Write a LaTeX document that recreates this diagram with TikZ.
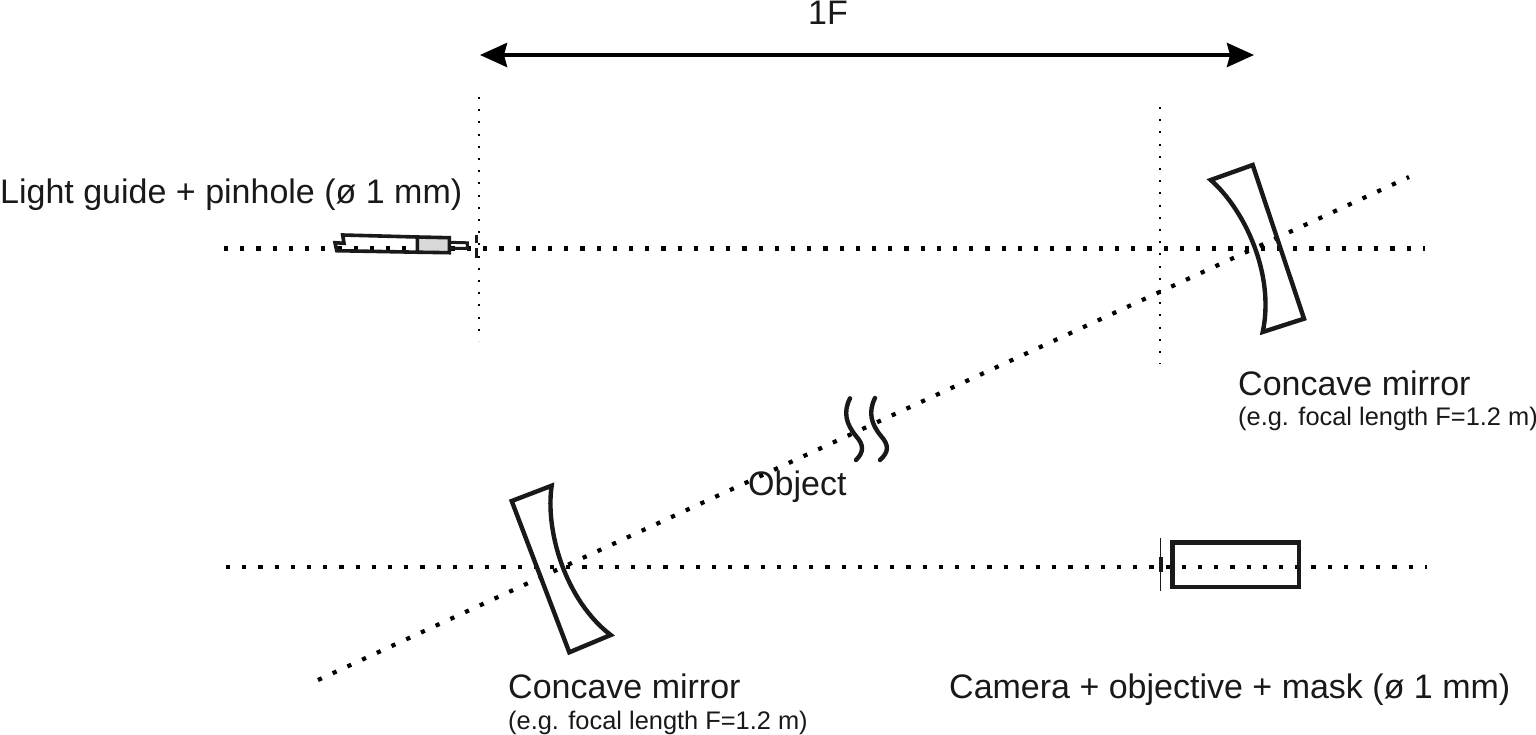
\documentclass[tikz,border=0pt]{standalone}
\usepackage{fontspec}
\setmainfont{Liberation Sans}
\usetikzlibrary{arrows.meta}
\tikzset{
  beam/.style={line width=4.2pt,dash pattern=on 4.2pt off 12pt},
  guide/.style={line width=2pt,dash pattern=on 2pt off 10.2pt},
  outline/.style={line width=4.4pt,line join=miter,color=black!90},
  big/.style={font=\fontsize{34}{34}\selectfont,inner sep=0pt,anchor=base west,color=black!90},
  small/.style={font=\fontsize{25.4}{25.4}\selectfont,inner sep=0pt,anchor=base west,color=black!90}
}
\begin{document}
\begin{tikzpicture}[x=1pt,y=-1pt]
          \useasboundingbox (0,0) rectangle (1536,734);

          \coordinate (t1) at (224,248.5);
          \coordinate (t2) at (1425,248.5);
          \coordinate (b1) at (226,567);
          \coordinate (b2) at (1427,567);
          \coordinate (o1) at (318,680);
          \coordinate (o2) at (1409,177);
          \coordinate (g1a) at (479,97);
          \coordinate (g1b) at (479,341);
          \coordinate (g2a) at (1159.5,107);
          \coordinate (g2b) at (1159.5,364);
          \coordinate (d1) at (480,55);
          \coordinate (d2) at (1254,55);

          \draw[beam] (t1) -- (t2);
          \draw[beam] (b1) -- (b2);
          \draw[beam] (o1) -- (o2);
          \draw[guide] (g1a) -- (g1b);
          \draw[guide] (g2a) -- (g2b);
          \draw[line width=4pt,{Stealth[length=27pt,width=24pt,inset=3pt]}-{Stealth[length=27pt,width=24pt,inset=3pt]}] (d1) -- (d2);

          \draw[outline,line width=3.6pt,fill=black!15] (417.3,237) -- (449.3,237.7) -- (449.3,252.7) -- (417.3,252.2) -- cycle;
          \draw[outline,line width=3.6pt] (417.3,237) -- (342.7,235) -- (344,243.3) -- (335,242.7) -- (336.7,250.7) -- (417.3,252.2);
          \draw[outline,line width=3pt] (449.3,242.3) -- (467.3,242.8) -- (467.3,248.3) -- (449.3,248.3);
          \draw[line width=3.4pt,color=black!90] (476.7,235) -- (476.7,243.3);
          \draw[line width=3.4pt,color=black!90] (476.7,248) -- (476.7,258);

          \draw[outline] (1210.7,180) -- (1252.7,165) -- (1304,318.7) -- (1262.7,332) .. controls (1275,275) and (1245,210) .. cycle;
          \draw[outline] (511.7,501) -- (551.7,485.7) .. controls (545,530) and (565,600) .. (610.7,635) -- (569.3,652.3) -- cycle;
          \draw[outline] (1172.5,542.5) rectangle (1299,587);
          \draw[line width=0.8pt,color=black!90] (1160.5,538) -- (1160.5,557);
          \draw[line width=4pt,color=black!90] (1160.5,557) -- (1160.5,572);
          \draw[line width=1.4pt,color=black!90] (1160.5,572) -- (1160.5,591);

          \draw[outline,line cap=round] (850,398.3) .. controls (843,412) and (846,424) .. (856,436) .. controls (864,445) and (864,452) .. (856,460);
          \draw[outline,line cap=round] (875,398) .. controls (868,412) and (871,424) .. (881,436) .. controls (889,445) and (889,452) .. (880,460);

          \node[big] (focus) at (808,24) {1F};
          \node[big] (source) at (0,203) {Light guide + pinhole (ø 1 mm)};
          \node[big] (mirror1) at (1238,395) {Concave mirror};
          \node[small] (focal1) at (1238,425.5) {(e.g. focal length F=1.2 m)};
          \node[big] (object) at (748,495) {Object};
          \node[big] (mirror2) at (508,698) {Concave mirror};
          \node[small] (focal2) at (508,729) {(e.g. focal length F=1.2 m)};
          \node[big] (camera) at (949,698) {Camera + objective + mask (ø 1 mm)};
        \end{tikzpicture}
\end{document}
